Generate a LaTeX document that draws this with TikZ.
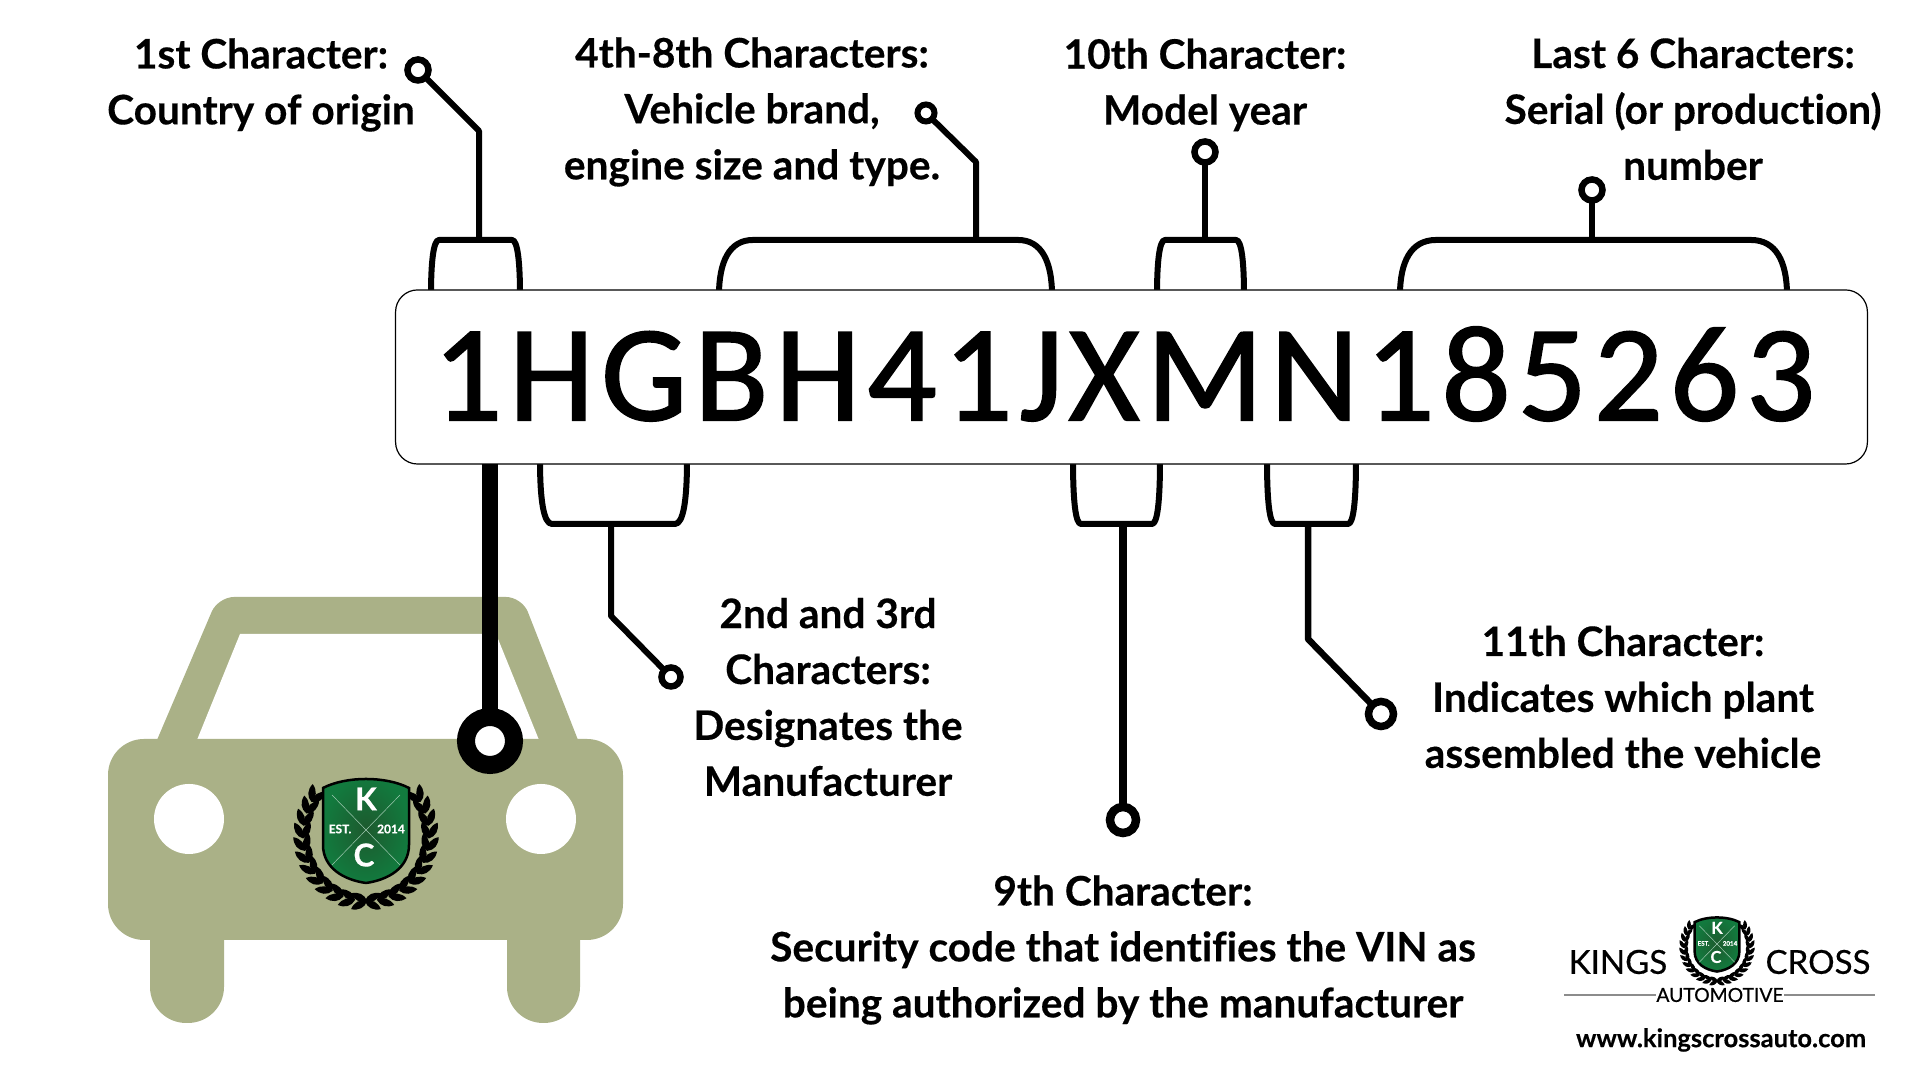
\documentclass[tikz,border=0pt]{standalone}
\usepackage{fontspec}
\setmainfont{Lato}[Ligatures=NoCommon,BoldFeatures={FakeBold=0.35}]
\newfontfamily\platefont[LetterSpace=4.8,FakeBold=1.2]{Carlito}
\newfontfamily\logofont[FakeBold=0.5]{Lato}
\definecolor{carolive}{HTML}{AAB187}
\definecolor{crestdark}{HTML}{1D5A2E}
\definecolor{crestlight}{HTML}{127A3E}
\newcommand{\crestleaf}[1]{\fill[black,rotate=#1] (0,0) .. controls (5,5) and (5,12) .. (0,18) .. controls (-5,12) and (-5,5) .. (0,0);}
\tikzset{
  vinlabel/.style={align=center,inner sep=0pt,font=\bfseries\fontsize{11.55}{15.9}\selectfont},
  leaddot/.style={circle,draw=black,fill=white,inner sep=0pt,outer sep=0pt,minimum size=#1},
  leadline/.style={line width=0.06cm,line join=round},
  pics/kccrest/.style={code={
    \foreach \sgn in {-1,1}{
      \foreach \ang in {150,161,...,272}{
        \begin{scope}[shift={({\sgn*63*cos(\ang)},{-5+66*sin(\ang)})},xscale=\sgn]
          \crestleaf{\ang-180-26}
          \crestleaf{\ang-180+26}
        \end{scope}
      }
    }
    \draw[line width=0.025cm,shade,inner color=crestdark,outer color=crestlight]
      (-43,42) .. controls (-20,54) and (20,54) .. (43,42)
      -- (43,-15) .. controls (43,-38) and (22,-50) .. (0,-53)
      .. controls (-22,-50) and (-43,-38) .. (-43,-15) -- cycle;
    \draw[line width=0.005cm,white!60!crestlight] (-34,35) -- (34,-35) (34,35) -- (-34,-35);
    \node[transform shape,text=white,inner sep=0pt,font=\bfseries\fontsize{9}{10}\selectfont] (ck) at (0,31) {K};
    \node[transform shape,text=white,inner sep=0pt,font=\bfseries\fontsize{9}{10}\selectfont] (cc) at (-2,-25) {C};
    \node[transform shape,text=white,inner sep=0pt,font=\bfseries\fontsize{3.4}{4}\selectfont] (cest) at (-26,1) {EST.};
    \node[transform shape,text=white,inner sep=0pt,font=\bfseries\fontsize{3.4}{4}\selectfont] (cyear) at (25,1) {2014};
  }}
}

\begin{document}
\begin{tikzpicture}[x=0.01cm,y=0.01cm]
\useasboundingbox (0,0) rectangle (1920,1080);
%\draw[help lines,step=1] (0,0) grid (19,11);

\fill[carolive] (157,340) [rounded corners=0.16cm] -- (218,483) -- (522,483) [sharp corners] -- (578,340) -- cycle;
\fill[white] (197,340) -- (240,446) -- (496,446) -- (539,340) -- cycle;
\fill[carolive,rounded corners=0.36cm] (108,140) rectangle (623,341);
\fill[carolive,rounded corners=0.36cm] (150,57) rectangle (224,180);
\fill[carolive,rounded corners=0.36cm] (507,57) rectangle (580,180);
\fill[white] (189,261) circle (35);
\fill[white] (541,261) circle (35);

\pic (crestbig) at (366,250) {kccrest};

\foreach \xa/\xb/\ins in {431/520/8,719/1052/34,1157/1244/8,1400/1787/36}{
  \draw[leadline] (\xa,785) .. controls (\xa,818) and (\xa+\ins*0.3,840) .. (\xa+\ins,840)
    -- (\xb-\ins,840) .. controls (\xb-\ins*0.3,840) and (\xb,818) .. (\xb,785);
}
\foreach \xa/\xb/\ins in {540/687/12,1073/1160/8,1267/1356/8}{
  \draw[leadline] (\xa,620) .. controls (\xa,580) and (\xa+\ins*0.3,556) .. (\xa+\ins,556)
    -- (\xb-\ins,556) .. controls (\xb-\ins*0.3,556) and (\xb,580) .. (\xb,620);
}

\node[draw=black,fill=white,line width=0.012cm,rounded corners=0.22cm,minimum width=14.71cm,minimum height=1.74cm,inner sep=0pt] (plate) at (1131.5,703) {};
\node[inner sep=0pt,font=\platefont\fontsize{39}{42}\selectfont] (vincode) at (1124,706) {1HGBH41JXMN185263};

\coordinate (top1) at (479,841);
\coordinate (bend1) at (479,949);
\node[leaddot=0.21cm,line width=0.065cm] (dot1) at (418,1010) {};
\draw[leadline] (dot1) -- (bend1) -- (top1);

\coordinate (top4) at (976,837);
\coordinate (bend4) at (976,918);
\node[leaddot=0.17cm,line width=0.06cm] (dot4) at (926,967) {};
\draw[leadline] (dot4) -- (bend4) -- (top4);

\coordinate (top10) at (1205,841);
\node[leaddot=0.21cm,line width=0.065cm] (dot10) at (1205,928) {};
\draw[leadline] (dot10) -- (top10);

\coordinate (toplast) at (1592,841);
\node[leaddot=0.21cm,line width=0.065cm] (dotlast) at (1592,890) {};
\draw[leadline] (dotlast) -- (toplast);

\coordinate (platefirst) at (490,616);
\node[leaddot=0.48cm,line width=0.18cm] (dotcar) at (490,339) {};
\draw[line width=0.15cm] (platefirst) -- (dotcar);

\coordinate (low2) at (611,556);
\coordinate (bend2) at (611,464);
\node[leaddot=0.19cm,line width=0.065cm] (dot2) at (671,403) {};
\draw[leadline] (low2) -- (bend2) -- (dot2);

\coordinate (low9) at (1123,556);
\node[leaddot=0.26cm,line width=0.085cm] (dot9) at (1123,260) {};
\draw[line width=0.08cm] (low9) -- (dot9);

\coordinate (low11) at (1308,556);
\coordinate (bend11) at (1308,441);
\node[leaddot=0.25cm,line width=0.075cm] (dot11) at (1381,366) {};
\draw[line width=0.065cm,line join=round] (low11) -- (bend11) -- (dot11);

\node[vinlabel] (first) at (261,995) {1st Character:\\Country of origin};
\node[vinlabel] (brand) at (752,968) {4th-8th Characters:\\Vehicle brand,\\engine size and type.};
\node[vinlabel] (year) at (1205,995) {10th Character:\\Model year};
\node[vinlabel] (serial) at (1693,971) {Last 6 Characters:\\Serial (or production)\\number};
\node[vinlabel] (maker) at (828,383) {2nd and 3rd\\Characters:\\Designates the\\Manufacturer};
\node[vinlabel] (plant) at (1623,383) {11th Character:\\Indicates which plant\\assembled the vehicle};
\node[vinlabel] (security) at (1123,130) {9th Character:\\Security code that identifies the VIN as\\being authorized by the manufacturer};

\pic[scale=0.52] (crestsmall) at (1717,136) {kccrest};
\node[inner sep=0pt,font=\logofont\fontsize{9.4}{10}\selectfont] (kings) at (1618,118) {KINGS};
\node[inner sep=0pt,font=\logofont\fontsize{9.4}{10}\selectfont] (cross) at (1818,118) {CROSS};
\node[inner sep=0pt,font=\logofont\fontsize{5.5}{6}\selectfont] (auto) at (1720,85) {AUTOMOTIVE};
\coordinate (ruleleft) at (1564,85);
\coordinate (ruleright) at (1875,85);
\draw[black!45,line width=0.012cm] (ruleleft) -- (auto.west) (auto.east) -- (ruleright);
\node[inner sep=0pt,font=\bfseries\fontsize{7.25}{9}\selectfont] (web) at (1721,40) {www.kingscrossauto.com};

\end{tikzpicture}
\end{document}
